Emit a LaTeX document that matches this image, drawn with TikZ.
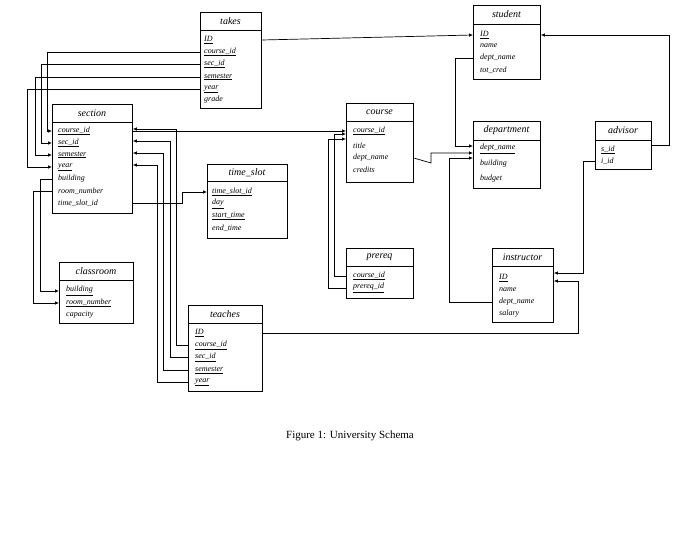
\documentclass[tikz,border=0pt]{standalone}
\usepackage{fontspec}
\setmainfont{Liberation Serif}
\usetikzlibrary{arrows.meta}
\tikzset{
  box/.style={draw, line width=0.8pt, inner sep=0pt, anchor=north west},
  ttl/.style={font=\fontsize{10}{11}\selectfont\itshape, inner sep=0pt},
  row/.style={font=\fontsize{8}{9}\selectfont\itshape, anchor=west, inner sep=0pt},
  fk/.style={line width=0.7pt, -{Latex[length=4pt,width=3.5pt]}}
}
% \ent{name}{x1}{x2}{ytop}{ysplit}{ybottom}{title}
\newcommand{\ent}[7]{%
  \node[box, minimum width=#3pt-#2pt, minimum height=#6pt-#4pt] (#1) at (#2,#4) {};
  \node[ttl] (#1t) at ({(#2+#3)/2},{(#4+#5)/2}) {#7};
  \draw[line width=0.8pt] (#2,#5) -- (#3,#5);}
\begin{document}
\begin{tikzpicture}[x=1pt,y=-1pt]
\useasboundingbox (0,0) rectangle (700,544);

% takes
\ent{takes}{200}{261}{12}{30}{108}{takes}
\node[row] (tk1) at (204,40) {\underline{ID}};
\node[row] (tk2) at (204,52) {\underline{course\_id}};
\node[row] (tk3) at (204,64) {\underline{sec\_id}};
\node[row] (tk4) at (204,77) {\underline{semester}};
\node[row] (tk5) at (204,89) {\underline{year}};
\node[row] (tk6) at (204,100) {grade};

% section
\ent{section}{52}{132}{104}{122}{213}{section}
\node[row] (sc1) at (58,131) {\underline{course\_id}};
\node[row] (sc2) at (58,143) {\underline{sec\_id}};
\node[row] (sc3) at (58,155) {\underline{semester}};
\node[row] (sc4) at (58,167) {\underline{year}};
\node[row] (sc5) at (58,179) {building};
\node[row] (sc6) at (58,191) {room\_number};
\node[row] (sc7) at (58,203) {time\_slot\_id};

% time_slot
\ent{timeslot}{207}{287}{164}{181}{238}{time\_slot}
\node[row] (ts1) at (212,192) {\underline{time\_slot\_id}};
\node[row] (ts2) at (212,204) {\underline{day}};
\node[row] (ts3) at (212,216) {\underline{start\_time}};
\node[row] (ts4) at (212,228) {end\_time};

% classroom
\ent{classroom}{59}{133}{262}{280}{323}{classroom}
\node[row] (cl1) at (66,291) {\underline{building}};
\node[row] (cl2) at (66,303) {\underline{room\_number}};
\node[row] (cl3) at (66,315) {capacity};

% teaches
\ent{teaches}{188}{262}{305}{323}{391}{teaches}
\node[row] (te1) at (195,333) {\underline{ID}};
\node[row] (te2) at (195,345) {\underline{course\_id}};
\node[row] (te3) at (195,357) {\underline{sec\_id}};
\node[row] (te4) at (195,370) {\underline{semester}};
\node[row] (te5) at (195,382) {\underline{year}};

% course
\ent{course}{346}{413}{103}{121}{182}{course}
\node[row] (co1) at (353,131) {\underline{course\_id}};
\node[row] (co2) at (353,146) {title};
\node[row] (co3) at (353,158) {dept\_name};
\node[row] (co4) at (353,170) {credits};

% prereq
\ent{prereq}{346}{413}{248}{266}{298}{prereq}
\node[row] (pr1) at (353,276) {\underline{course\_id}};
\node[row] (pr2) at (353,288) {\underline{prereq\_id}};

% student
\ent{student}{473}{540}{5}{24}{79}{student}
\node[row] (st1) at (480,35) {\underline{ID}};
\node[row] (st2) at (480,46) {name};
\node[row] (st3) at (480,58) {dept\_name};
\node[row] (st4) at (480,70) {tot\_cred};

% department
\ent{department}{473}{540}{121}{140}{188}{department}
\node[row] (de1) at (480,149) {\underline{dept\_name}};
\node[row] (de2) at (480,164) {building};
\node[row] (de3) at (480,179) {budget};

% advisor
\ent{advisor}{595}{651}{121}{140}{169}{advisor}
\node[row] (ad1) at (601,150) {\underline{s\_id}};
\node[row] (ad2) at (601,161) {i\_id};

% instructor
\ent{instructor}{492}{553}{248}{266}{322}{instructor}
\node[row] (in1) at (499,278) {\underline{ID}};
\node[row] (in2) at (499,290) {name};
\node[row] (in3) at (499,302) {dept\_name};
\node[row] (in4) at (499,314) {salary};

% takes -> student, section
\draw[fk] (tk1 -| takes.east) -- (st1 -| student.west);
\draw[fk] (tk2 -| takes.west) -- (47,52) |- (sc1 -| section.west);
\draw[fk] (tk3 -| takes.west) -- (41,64) |- (sc2 -| section.west);
\draw[fk] (tk4 -| takes.west) -- (35,77) |- (sc3 -| section.west);
\draw[fk] (tk5 -| takes.west) -- (27,89) |- (sc4 -| section.west);

% section -> classroom, time_slot, course
\draw[fk] (sc5 -| section.west) -- (40,179) |- (cl1 -| classroom.west);
\draw[fk] (sc6 -| section.west) -- (33,191) |- (cl2 -| classroom.west);
\draw[fk] (sc7 -| section.east) -- (182,203) |- (ts1 -| timeslot.west);
\draw[fk] (sc1 -| section.east) -- (sc1 -| course.west);

% teaches -> section, instructor
\draw[fk] (te2 -| teaches.west) -- (176,345) |- ([yshift=2pt]sc1 -| section.east);
\draw[fk] (te3 -| teaches.west) -- (170,357) |- ([yshift=2pt]sc2 -| section.east);
\draw[fk] (te4 -| teaches.west) -- (163,370) |- ([yshift=2pt]sc3 -| section.east);
\draw[fk] (te5 -| teaches.west) -- (157,382) |- ([yshift=2pt]sc4 -| section.east);
\draw[fk] (te1 -| teaches.east) -- (578,333) |- (instructor.east |- 0,281);

% advisor -> instructor, student
\draw[fk] (ad2 -| advisor.west) -- (583,161) |- (instructor.east |- 0,273);
\draw[fk] (advisor.east |- 0,145) -- (669,145) |- (student.east |- 0,35);

% -> department
\draw[fk] (st3 -| student.west) -- (455,58) |- (department.west |- 0,146);
\draw[fk] (co3 -| course.east) -- (431,163) |- (department.west |- 0,153);
\draw[fk] (in3 -| instructor.west) -- (449,302) |- (department.west |- 0,158);

% prereq -> course
\draw[fk] (pr1 -| prereq.west) -- (334,276) |- (course.west |- 0,134);
\draw[fk] (pr2 -| prereq.west) -- (328,288) |- (course.west |- 0,139);

\node[font=\fontsize{11}{13}\selectfont] (cap) at (350,436) {Figure 1: University Schema};
\end{tikzpicture}
\end{document}
